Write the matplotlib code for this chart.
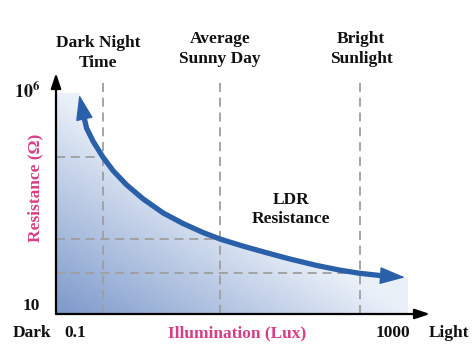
import numpy as np
import matplotlib
matplotlib.use("Agg")
import matplotlib.pyplot as plt
from matplotlib.colors import to_rgb

# ---- data (lux, ohm) ----
curve_lux = [0.0506, 0.0557, 0.0706, 0.1, 0.1446, 0.2338, 0.4239, 0.868, 1.777, 3.64,
             6.62, 15.1, 35.7, 81.5, 214, 489, 1000, 2200]
curve_ohm = [2.74e5, 1.46e5, 7.10e4, 3.03e4, 1.43e4, 6640, 3080, 1432, 804, 492,
             347, 235.7, 163.3, 116.4, 81.7, 63.5, 53.4, 46.8]
start_tip = (0.0428, 9.0e5)
end_tip = (5010, 42.9)

marker_lux = [0.1, 6.62, 1000]
marker_ohm = [3.03e4, 347, 53.4]
marker_names = [["Dark Night", "Time"], ["Average", "Sunny Day"], ["Bright", "Sunlight"]]

x_tick_labels = ["0.1", "1000"]
y_tick_labels = [r"$\mathbf{10^6}$", "10"]

xlim = (0.0186, 12300)
ylim = (5.8, 2.98e6)

W, H = 474, 351
fig = plt.figure(figsize=(W / 100, H / 100), dpi=100)
plt.rcParams['mathtext.fontset'] = 'stix'
ax = fig.add_axes([56 / W, 1 - 314 / H, (430 - 56) / W, (314 - 73) / H])
ax.set_xscale('log')
ax.set_yscale('log')
ax.set_xlim(*xlim)
ax.set_ylim(*ylim)
ax.axis('off')

# ---- gradient fill under curve ----
fill_x = [xlim[0], start_tip[0]] + curve_lux + [end_tip[0], 5580, 5580, xlim[0]]
fill_y = [1.0e6, 1.0e6] + curve_ohm + [end_tip[1], end_tip[1], ylim[0], ylim[0]]
poly = ax.fill(fill_x, fill_y, facecolor='none', edgecolor='none')[0]

n = 300
u, v = np.meshgrid(np.linspace(0, 1, n), np.linspace(0, 1, n))
d = np.clip(1 - u / 0.94 - v / 0.92, 0, 1)
dark = np.array(to_rgb('#7c99cb'))
light = np.array(to_rgb('#eaf0f8'))
img = light[None, None, :] * (1 - d[..., None]) + dark[None, None, :] * d[..., None]
im = ax.imshow(img, extent=[0, 1, 0, 1], origin='lower', transform=ax.transAxes,
               aspect='auto', zorder=1)
im.set_clip_path(poly)

# ---- dashed guide lines ----
dash_col = '#9e9e9e'
top_v = 2.03e6
for lx, ly in zip(marker_lux, marker_ohm):
    ax.plot([lx, lx], [ylim[0], top_v], color=dash_col, lw=1.3, dashes=(5, 3.2), zorder=2)
    ax.plot([xlim[0], lx], [ly, ly], color=dash_col, lw=1.3, dashes=(5, 3.2), zorder=2)

# ---- curve with arrowheads ----
curve_col = '#2a5fa9'
ax.plot(curve_lux, curve_ohm, color=curve_col, lw=3.8, solid_capstyle='butt',
        solid_joinstyle='round', zorder=4)
head = '-|>,head_length=1.6,head_width=0.55'
ax.annotate('', xy=start_tip, xytext=(curve_lux[0], curve_ohm[0]),
            arrowprops=dict(arrowstyle=head, color=curve_col, lw=1, shrinkA=0, shrinkB=0), zorder=5)
ax.annotate('', xy=end_tip, xytext=(curve_lux[-1], curve_ohm[-1]),
            arrowprops=dict(arrowstyle=head, color=curve_col, lw=1, shrinkA=0, shrinkB=0), zorder=5)

# ---- axes arrows ----
ax.annotate('', xy=(0, 1), xytext=(0, 0), xycoords='axes fraction',
            arrowprops=dict(arrowstyle='-|>,head_length=0.9,head_width=0.3',
                            color='black', lw=1.6, shrinkA=0, shrinkB=0), zorder=6)
ax.annotate('', xy=(1, 0), xytext=(0, 0), xycoords='axes fraction',
            arrowprops=dict(arrowstyle='-|>,head_length=0.9,head_width=0.3',
                            color='black', lw=1.6, shrinkA=0, shrinkB=0), zorder=6)

# ---- text ----
serif = dict(family='Liberation Serif', weight='bold')
pink = '#d63f86'

def ftext(x, y, s, ha='center', va='baseline', size=12.5, color='#111111', **kw):
    fig.text(x / W, 1 - y / H, s, ha=ha, va=va, fontsize=size, color=color, **serif, **kw)

label_pos = [(98, 47, 67), (220, 43, 63), (361, 43, 63)]
for (cx, y1, y2), (l1, l2) in zip(label_pos, marker_names):
    ftext(cx, y1, l1)
    ftext(cx, y2, l2)

ftext(291, 204, "LDR")
ftext(291, 223, "Resistance")

ftext(40, 98, y_tick_labels[0], ha='right', size=13)
ftext(40, 310, y_tick_labels[1], ha='right')

ftext(13, 337, "Dark", ha='left')
ftext(75, 337, x_tick_labels[0])
ftext(393, 337, x_tick_labels[1])
ftext(449, 337, "Light")
ftext(237, 337, "Illumination (Lux)", color=pink)
ftext(35, 188, "Resistance (\u03a9)", va='center', color=pink, rotation=90)

fig.savefig('out.png', dpi=100)
